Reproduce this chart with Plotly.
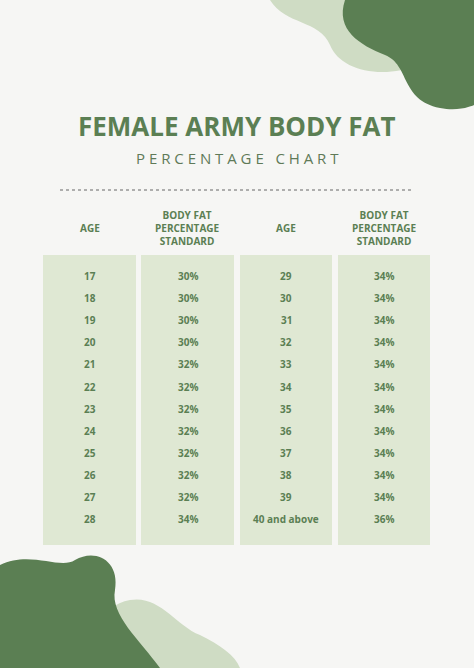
import plotly.graph_objects as go

ages_left = ["17", "18", "19", "20", "21", "22", "23", "24", "25", "26", "27", "28"]
fat_left = ["30%", "30%", "30%", "30%", "32%", "32%", "32%", "32%", "32%", "32%", "32%", "34%"]
ages_right = ["29", "30", "31", "32", "33", "34", "35", "36", "37", "38", "39", "40 and above"]
fat_right = ["34%", "34%", "34%", "34%", "34%", "34%", "34%", "34%", "34%", "34%", "34%", "36%"]
headers = ["AGE", "BODY FAT<br>PERCENTAGE<br>STANDARD", "AGE", "BODY FAT<br>PERCENTAGE<br>STANDARD"]

DARK = "#5b7f53"
LIGHT = "#dfe8d3"
PALE = "#cfdcc4"
BG = "#f6f6f4"

cols = [(43, 136), (141, 234), (240, 332), (338, 430)]
row_y0, row_step = 276, 22.1

fig = go.Figure()
shapes = []
for x0, x1 in cols:
    shapes.append(dict(type="rect", x0=x0, x1=x1, y0=255, y1=545, fillcolor=LIGHT, line_width=0, layer="below"))

# decorative blobs
shapes += [
    dict(type="path", path="M 270,0 C 285,25 320,20 330,45 C 340,70 380,80 420,65 C 450,55 474,70 474,80 L 474,0 Z",
         fillcolor=PALE, line_width=0, layer="below"),
    dict(type="path", path="M 345,0 C 335,30 360,45 385,55 C 410,65 400,100 440,108 C 460,112 474,105 474,105 L 474,0 Z",
         fillcolor=DARK, line_width=0, layer="below"),
    dict(type="path", path="M 90,668 C 85,640 100,605 130,600 C 160,595 175,625 200,635 C 220,645 235,655 240,668 Z",
         fillcolor=PALE, line_width=0, layer="below"),
    dict(type="path", path="M 0,565 C 30,550 60,570 75,560 C 95,548 120,560 115,590 C 110,615 140,640 160,668 L 0,668 Z",
         fillcolor=DARK, line_width=0, layer="below"),
    dict(type="line", x0=60, x1=411, y0=190, y1=190, line=dict(color="#666", width=1, dash="dot")),
]

ann = [
    dict(x=237, y=126, text="<b>FEMALE ARMY BODY FAT</b>", font=dict(size=26, color=DARK, family="Open Sans")),
    dict(x=237, y=158, text="P E R C E N T A G E   C H A R T", font=dict(size=15, color="#5f7a58", family="Open Sans")),
]
for (x0, x1), h in zip(cols, headers):
    ann.append(dict(x=(x0 + x1) / 2, y=228, text="<b>%s</b>" % h, font=dict(size=10, color=DARK, family="Open Sans")))
for col, vals in zip(cols, [ages_left, fat_left, ages_right, fat_right]):
    for i, v in enumerate(vals):
        ann.append(dict(x=(col[0] + col[1]) / 2, y=row_y0 + i * row_step, text="<b>%s</b>" % v,
                        font=dict(size=10, color=DARK, family="Open Sans")))
for a in ann:
    a.update(xref="x", yref="y", showarrow=False)

fig.update_layout(
    width=474, height=668, margin=dict(l=0, r=0, t=0, b=0),
    paper_bgcolor=BG, plot_bgcolor=BG, shapes=shapes, annotations=ann, showlegend=False,
    xaxis=dict(range=[0, 474], visible=False, fixedrange=True),
    yaxis=dict(range=[668, 0], visible=False, fixedrange=True),
)
fig.write_html("out.html", config={"displayModeBar": False},
               post_script="document.body.style.margin='0';document.body.style.overflow='hidden';")
